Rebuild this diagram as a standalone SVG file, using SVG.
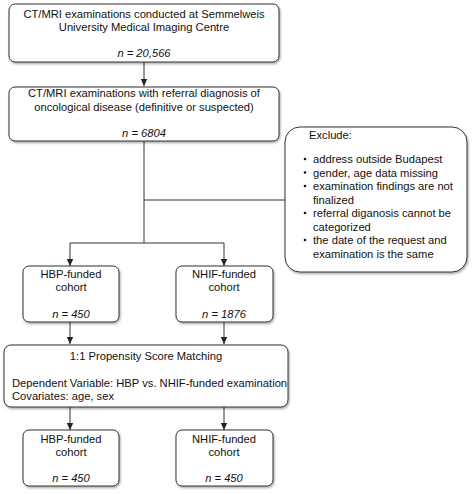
<svg xmlns="http://www.w3.org/2000/svg" width="474" height="494" viewBox="0 0 474 494">
<defs>
<filter id="sh" x="-10%" y="-10%" width="120%" height="130%">
<feDropShadow dx="1" dy="1.5" stdDeviation="1" flood-color="#000" flood-opacity="0.35"/>
</filter>
<marker id="arr" markerWidth="8" markerHeight="8" refX="7" refY="4" orient="auto" markerUnits="userSpaceOnUse">
<path d="M0,0.8 L7,4 L0,7.2 Z" fill="#222"/>
</marker>
</defs>
<style>
.box{fill:#fff;stroke:#333;stroke-width:1;filter:url(#sh)}
text{font-family:"Liberation Sans",Arial,sans-serif;font-size:11.2px;fill:#111}
.c{text-anchor:middle}
.i{font-style:italic}
.ln{fill:none;stroke:#333;stroke-width:1}
</style>
<rect width="474" height="494" fill="#fff"/>
<g id="connectors">
<path class="ln" d="M144,62 V86" marker-end="url(#arr)"/>
<path class="ln" d="M144,141 V243"/>
<path class="ln" d="M144,200 H285"/>
<path class="ln" d="M70,243 H224"/>
<path class="ln" d="M70,243 V266" marker-end="url(#arr)"/>
<path class="ln" d="M224,243 V266" marker-end="url(#arr)"/>
<path class="ln" d="M70,322 V344" marker-end="url(#arr)"/>
<path class="ln" d="M224,322 V344" marker-end="url(#arr)"/>
<path class="ln" d="M70,407 V430" marker-end="url(#arr)"/>
<path class="ln" d="M224,407 V430" marker-end="url(#arr)"/>
</g>
<g id="n1">
<rect class="box" x="9" y="4" width="270" height="58" rx="6"/>
<text class="c" x="144" y="18">CT/MRI examinations conducted at Semmelweis</text>
<text class="c" x="144" y="31">University Medical Imaging Centre</text>
<text class="c i" x="144" y="57">n = 20,566</text>
</g>
<g id="n2">
<rect class="box" x="9" y="87" width="270" height="54" rx="6"/>
<text class="c" x="144" y="97">CT/MRI examinations with referral diagnosis of</text>
<text class="c" x="144" y="111">oncological disease (definitive or suspected)</text>
<text class="c i" x="144" y="137">n = 6804</text>
</g>
<g id="exclude">
<rect class="box" x="285" y="127" width="182" height="145" rx="15"/>
<text x="309" y="139">Exclude:</text>
<g>
<circle cx="305" cy="159" r="1.3" fill="#111"/>
<text x="313" y="163">address outside Budapest</text>
<circle cx="305" cy="172.5" r="1.3" fill="#111"/>
<text x="313" y="176.5">gender, age data missing</text>
<circle cx="305" cy="186" r="1.3" fill="#111"/>
<text x="313" y="190">examination findings are not</text>
<text x="313" y="203.5">finalized</text>
<circle cx="305" cy="213" r="1.3" fill="#111"/>
<text x="313" y="217">referral diganosis cannot be</text>
<text x="313" y="230.5">categorized</text>
<circle cx="305" cy="240" r="1.3" fill="#111"/>
<text x="313" y="244">the date of the request and</text>
<text x="313" y="257.5">examination is the same</text>
</g>
</g>
<g id="hbp1">
<rect class="box" x="23" y="266" width="96" height="56" rx="6"/>
<text class="c" x="71" y="278">HBP-funded</text>
<text class="c" x="71" y="291">cohort</text>
<text class="c i" x="71" y="318">n = 450</text>
</g>
<g id="nhif1">
<rect class="box" x="176" y="266" width="97" height="56" rx="6"/>
<text class="c" x="224" y="278">NHIF-funded</text>
<text class="c" x="224" y="291">cohort</text>
<text class="c i" x="224" y="318">n = 1876</text>
</g>
<g id="psm">
<rect class="box" x="4" y="345" width="284" height="62" rx="7"/>
<text class="c" x="146" y="360">1:1 Propensity Score Matching</text>
<text x="12" y="387">Dependent Variable: HBP vs. NHIF-funded examination</text>
<text x="12" y="400">Covariates: age, sex</text>
</g>
<g id="hbp2">
<rect class="box" x="23" y="430" width="96" height="56" rx="6"/>
<text class="c" x="71" y="443">HBP-funded</text>
<text class="c" x="71" y="456">cohort</text>
<text class="c i" x="71" y="482">n = 450</text>
</g>
<g id="nhif2">
<rect class="box" x="176" y="430" width="97" height="56" rx="6"/>
<text class="c" x="224" y="443">NHIF-funded</text>
<text class="c" x="224" y="456">cohort</text>
<text class="c i" x="224" y="482">n = 450</text>
</g>
</svg>
